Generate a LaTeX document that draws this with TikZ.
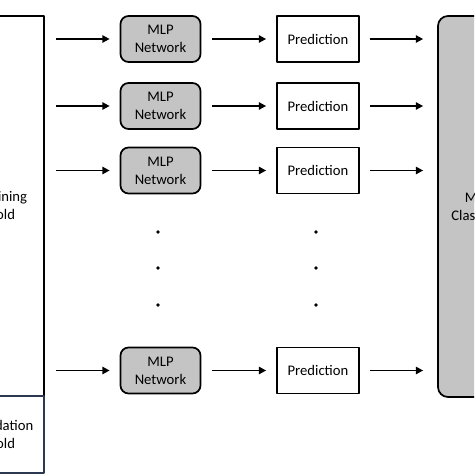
\documentclass[tikz,border=0pt]{standalone}
\usepackage{fontspec}
\setmainfont{Carlito}
\usetikzlibrary{arrows.meta}

\begin{document}
\begin{tikzpicture}[x=0.75pt,y=-0.75pt,line cap=round,line join=round,
  font=\fontsize{11}{13.5}\selectfont]

\definecolor{boxgray}{RGB}{196,196,196}
\definecolor{foldnavy}{RGB}{44,56,80}

\tikzset{
  mlpbox/.style={draw, fill=boxgray, rounded corners=6pt, line width=1.3pt,
    minimum width=60pt, minimum height=34.5pt, align=center, inner sep=0pt},
  predbox/.style={draw, line width=1.3pt, minimum width=61.5pt,
    minimum height=34.5pt, inner sep=0pt},
  foldbox/.style={draw, line width=1.3pt, minimum width=60.75pt, align=center},
  arr/.style={line width=1.3pt, line cap=butt, -{Triangle[length=5.5pt,width=5.5pt]}},
}

\path[use as bounding box] (0,0) rectangle (474,474);
\clip (0,0) rectangle (474,474);

% folds
\node[foldbox, minimum height=285pt] (train) at (3.5,206) {Training\\fold};
\node[foldbox, draw=foldnavy, minimum height=57.75pt] (valid) at (3.5,434.5) {Validation\\fold};

% classifier
\node[draw, fill=boxgray, rounded corners=7.5pt, line width=1.3pt, minimum width=60pt,
  minimum height=285.75pt, align=center] (cls) at (478,206.5) {MLP\\Classifier};

% rows
\foreach \y/\n in {39/1,106/2,170.5/3,370.5/4} {
  \node[mlpbox] (m\n) at (160.5,\y) {MLP\\Network};
  \node[predbox] (p\n) at (318,\y) {Prediction};
  \draw[arr, shorten <=8.25pt, shorten >=7.5pt] (train.east |- m\n) -- (m\n.west);
  \draw[arr, shorten <=8.25pt, shorten >=7.5pt] (m\n.east) -- (p\n.west);
  \draw[arr, shorten <=7.5pt, shorten >=10.5pt] (p\n.east) -- (cls.west |- p\n);
}

% dots
\foreach \y in {232,268,305} {
  \fill (158,\y) circle (1.8);
  \fill (316,\y) circle (1.8);
}

\end{tikzpicture}
\end{document}
